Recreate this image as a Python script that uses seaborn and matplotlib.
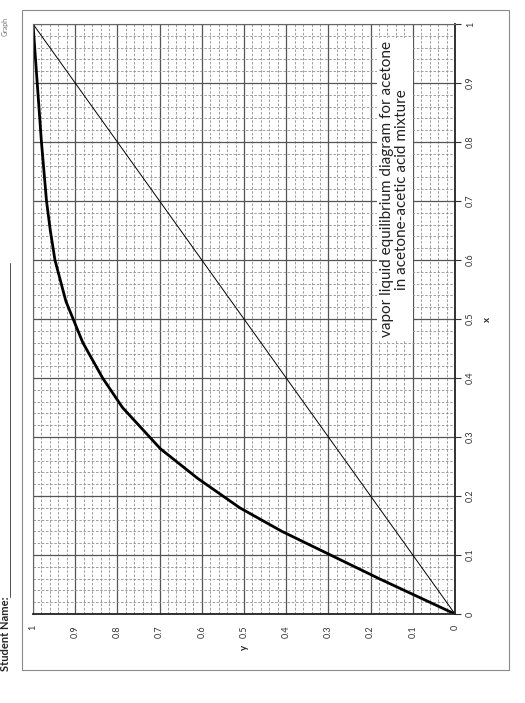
import numpy as np
import matplotlib
matplotlib.use('Agg')
import matplotlib.pyplot as plt
import seaborn as sns
from matplotlib.patches import Rectangle
from matplotlib.lines import Line2D

# VLE data for acetone in acetone-acetic acid
x_liquid = [0, 0.03, 0.06, 0.10, 0.14, 0.18, 0.23, 0.28, 0.35, 0.40,
            0.46, 0.53, 0.60, 0.65, 0.70, 0.80, 0.90, 1.0]
y_vapor = [0, 0.09, 0.18, 0.295, 0.41, 0.51, 0.61, 0.698, 0.788, 0.835,
           0.882, 0.922, 0.948, 0.959, 0.968, 0.98, 0.99, 1.0]
diag = [0, 1]

major_ticks = [0, 0.1, 0.2, 0.3, 0.4, 0.5, 0.6, 0.7, 0.8, 0.9, 1]
tick_labels = ['0', '0.1', '0.2', '0.3', '0.4', '0.5', '0.6', '0.7', '0.8', '0.9', '1']
minor_step = 0.02

sns.set_style('white')
plt.rcParams['font.family'] = ['Lato', 'DejaVu Sans']

fig = plt.figure(figsize=(5.25, 7.03), dpi=100)
# the page is scanned sideways, so the chart is drawn rotated:
# horizontal axis carries y (reversed), vertical axis carries x
ax = fig.add_axes([33 / 525, 1 - 614 / 703, 422 / 525, 590 / 703])

sns.lineplot(x=diag, y=diag, color='black', lw=0.7, ax=ax)
sns.lineplot(x=y_vapor, y=x_liquid, sort=False, color='black', lw=2.0, ax=ax)

ax.set_xlim(1, 0)
ax.set_ylim(0, 1)

ax.set_xticks(major_ticks)
ax.set_xticklabels(tick_labels, rotation=90, fontsize=6.5, color='#333333')
ax.set_yticks(major_ticks)
ax.set_yticklabels(tick_labels, rotation=90, fontsize=6.5, color='#333333', va='center')
ax.set_xticks(np.arange(0, 1.0001, minor_step), minor=True)
ax.set_yticks(np.arange(0, 1.0001, minor_step), minor=True)

ax.yaxis.tick_right()
ax.yaxis.set_label_position('right')
ax.tick_params(which='major', direction='out', length=4, width=0.8, color='#333333', pad=4)
ax.tick_params(which='minor', length=0)

ax.grid(which='major', color='#555555', lw=0.9, ls='-')
ax.grid(which='minor', color='#8f8f8f', lw=0.6, ls=(0, (3, 2)))

ax.set_xlabel('y', rotation=90, fontsize=7, fontweight='bold', labelpad=5)
ax.set_ylabel('x', rotation=90, fontsize=7, fontweight='bold', labelpad=6)

for side in ['left', 'top']:
    ax.spines[side].set_color('#666666')
    ax.spines[side].set_linewidth(0.8)
for side in ['right', 'bottom']:
    ax.spines[side].set_color('#222222')
    ax.spines[side].set_linewidth(1.3)

ax.text(0.857, 0.72, 'vapor liquid equilibrium diagram for acetone\nin acetone-acetic acid mixture',
        transform=ax.transAxes, rotation=90, ha='center', va='center', fontsize=11,
        multialignment='center', color='#222222', linespacing=1.1,
        bbox=dict(facecolor='white', edgecolor='none', pad=2.5))

# chart frame and page bits
fig.patches.append(Rectangle((22 / 525, 1 - 670 / 703), 487 / 525, 660 / 703,
                             transform=fig.transFigure, fill=False,
                             edgecolor='#8a8a8a', lw=0.8))
fig.text(6 / 525, 1 - 634 / 703, 'Student Name:', rotation=90, ha='center', va='center',
         fontsize=8, fontweight='bold')
fig.lines.append(Line2D([9.5 / 525, 9.5 / 525], [1 - 597 / 703, 1 - 263 / 703],
                        transform=fig.transFigure, color='#333333', lw=0.6))
fig.text(5 / 525, 1 - 26 / 703, 'Graph', rotation=90, ha='center', va='center',
         fontsize=5, color='#777777')

plt.savefig('out.png', dpi=100)
